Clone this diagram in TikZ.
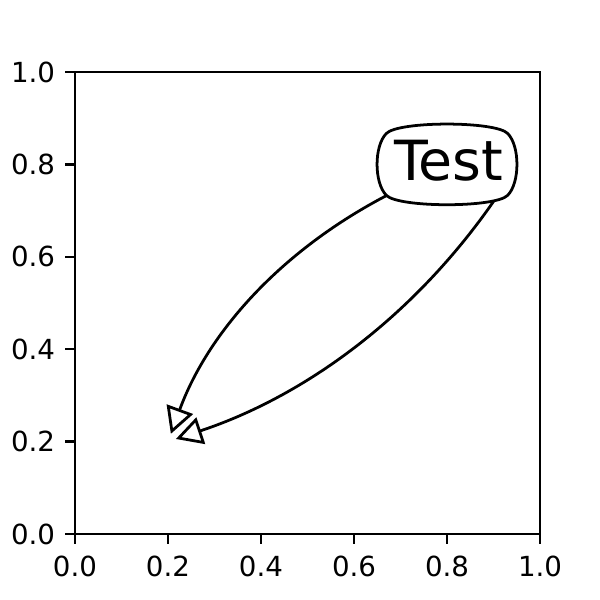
\documentclass[tikz,border=0pt]{standalone}
\usepackage{fontspec}
\setmainfont{DejaVu Sans}
\usetikzlibrary{calc,arrows.meta}
\pgfdeclarelayer{back}
\pgfsetlayers{back,main}

\tikzset{
  spine/.style={line width=0.8pt},
  ticklabel/.style={inner sep=0pt, font=\fontsize{10}{12}\selectfont},
  curvedarrow/.style={line width=1pt, shorten >=3pt, -{Triangle[open, length=9.5pt, width=10pt]}},
  roundbox/.style={line width=1pt, fill=white},
}

\begin{document}
\begin{tikzpicture}
  \useasboundingbox (0,0) rectangle (7.62,7.62);
  \begin{scope}[shift={(0.9525,0.8382)}, x=5.9055cm, y=5.8674cm]
    %%%%% AXES %%%%%
    \draw[spine] (0,0) rectangle (1,1);
    \foreach \t [count=\i] in {0.0,0.2,0.4,0.6,0.8,1.0} {
      \draw[spine] (\t,0) -- ++(0,-3.5pt);
      \draw[spine] (0,\t) -- ++(-3.5pt,0);
      \node[ticklabel, anchor=north] (xl\i) at ($(\t,0)+(0,-7.6pt)$) {\t};
      \node[ticklabel, anchor=east] (yl\i) at ($(0,\t)+(-7pt,0)$) {\t};
    }
    %%%%% ANNOTATION %%%%%
    \coordinate (target) at (0.2,0.2);
    \node[font=\fontsize{20}{24}\selectfont, inner sep=0pt, text width=38pt, align=center, text height=15.4pt, text depth=4pt] (test) at (0.8,0.8) {Test};
    \begin{pgfonlayer}{back}
      \draw[curvedarrow] (test.south west) .. controls +(-0.2365,-0.1199) and +(0.0875,0.2401) .. (target);
      \draw[curvedarrow] (test.south east) .. controls +(-0.1721,-0.2584) and +(0.3039,0.1016) .. (target);
    \end{pgfonlayer}
  \end{scope}
  % round4 box, white, hides the arrow ends inside it
  \begin{pgfonlayer}{back}
    \draw[roundbox] let \p1=($(test.south west)+(-6.1pt,-4.7pt)$), \p2=($(test.north east)+(6.1pt,4.7pt)$) in
      (\x1+3.4pt,\y1+3.4pt) .. controls (\x1+7.9pt,\y1-1.1pt) and (\x2-7.9pt,\y1-1.1pt) .. (\x2-3.4pt,\y1+3.4pt)
      .. controls (\x2+1.1pt,\y1+7.9pt) and (\x2+1.1pt,\y2-7.9pt) .. (\x2-3.4pt,\y2-3.4pt)
      .. controls (\x2-7.9pt,\y2+1.1pt) and (\x1+7.9pt,\y2+1.1pt) .. (\x1+3.4pt,\y2-3.4pt)
      .. controls (\x1-1.1pt,\y2-7.9pt) and (\x1-1.1pt,\y1+7.9pt) .. (\x1+3.4pt,\y1+3.4pt) -- cycle;
  \end{pgfonlayer}
\end{tikzpicture}
\end{document}
